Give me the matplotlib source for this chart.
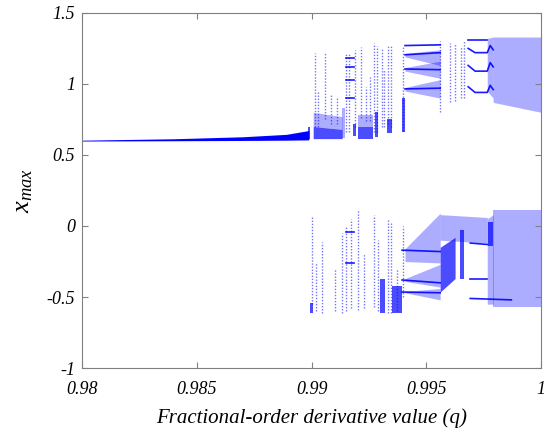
import matplotlib.pyplot as plt

plt.rcParams['font.family'] = ['Liberation Serif', 'DejaVu Serif']
plt.rcParams['mathtext.fontset'] = 'custom'
plt.rcParams['mathtext.rm'] = 'Liberation Serif'
plt.rcParams['mathtext.it'] = 'Liberation Serif:italic'

# period-1 trunk (a thin wedge that widens towards q = 0.99)
trunk_q = [0.980, 0.984, 0.987, 0.9889, 0.98988]
trunk_lo = [0.598, 0.600, 0.602, 0.604, 0.606]
trunk_hi = [0.604, 0.614, 0.628, 0.645, 0.672]

# dense bands: q0, q1, low at q0, low at q1, high at q0, high at q1
dense_bands = [
    (0.98985, 0.98993, 0.610, 0.610, 0.700, 0.700),
    (0.99007, 0.99133, 0.615, 0.615, 0.700, 0.680),
    (0.99181, 0.99194, 0.630, 0.630, 0.720, 0.720),
    (0.99203, 0.99268, 0.615, 0.615, 0.700, 0.700),
    (0.99277, 0.99290, 0.625, 0.625, 0.800, 0.800),
    (0.99329, 0.99351, 0.655, 0.655, 0.750, 0.750),
    (0.99394, 0.99407, 0.660, 0.660, 0.900, 0.900),
    (0.98993, 0.99007, -0.610, -0.610, -0.545, -0.545),
    (0.99298, 0.99320, -0.610, -0.610, -0.370, -0.370),
    (0.99351, 0.99394, -0.610, -0.610, -0.420, -0.420),
    (0.99560, 0.99625, -0.465, -0.370, -0.150, -0.080),
    (0.99647, 0.99665, -0.370, -0.370, -0.030, -0.030),
    (0.99769, 0.99791, -0.140, -0.140, 0.030, 0.030),
]

# loosely filled (scattered) regions, same layout
light_bands = [
    (0.99007, 0.99133, 0.700, 0.680, 0.800, 0.770),
    (0.99133, 0.99146, 0.620, 0.620, 0.830, 0.830),
    (0.99203, 0.99268, 0.700, 0.700, 0.780, 0.780),
    (0.99407, 0.99560, 1.190, 1.130, 1.215, 1.240),
    (0.99407, 0.99560, 1.090, 1.040, 1.115, 1.160),
    (0.99407, 0.99560, 0.950, 0.900, 0.975, 1.030),
    (0.99765, 0.99791, 0.950, 0.900, 1.320, 1.330),
    (0.99791, 1.00000, 0.870, 0.800, 1.330, 1.330),
    (0.99407, 0.99560, -0.250, -0.260, -0.160, 0.090),
    (0.99407, 0.99560, -0.390, -0.430, -0.370, -0.270),
    (0.99407, 0.99560, -0.470, -0.520, -0.460, -0.440),
    (0.99560, 0.99765, -0.100, -0.120, 0.080, 0.060),
    (0.99765, 0.99791, -0.550, -0.550, 0.050, 0.080),
    (0.99791, 1.00000, -0.570, -0.570, 0.110, 0.110),
]

# sparse vertical columns of points: q, y bottom, y top
col_q = [0.99015, 0.99030, 0.99060, 0.99085, 0.99110, 0.99150, 0.99165,
         0.99190, 0.99215, 0.99235, 0.99255, 0.99272, 0.99283, 0.99305,
         0.99315, 0.99335, 0.99345, 0.99400, 0.99560, 0.99605, 0.99625,
         0.99650, 0.99665,
         0.99000, 0.99020, 0.99046, 0.99100, 0.99133, 0.99150, 0.99170,
         0.99200, 0.99230, 0.99272, 0.99290, 0.99335, 0.99345, 0.99370,
         0.99400]
col_lo = [0.70, 0.70, 0.75, 0.72, 0.72, 0.66, 0.66,
          0.70, 0.76, 0.74, 0.74, 0.66, 0.66, 0.70,
          0.70, 0.72, 0.70, 0.67, 0.80, 0.87, 0.88,
          0.90, 0.90,
          -0.55, -0.60, -0.61, -0.60, -0.61, -0.60, -0.58,
          -0.59, -0.58, -0.57, -0.60, -0.61, -0.61, -0.60,
          -0.50]
col_hi = [1.22, 0.95, 1.22, 0.92, 0.90, 1.21, 1.21,
          1.24, 1.26, 0.98, 1.05, 1.29, 1.27, 1.25,
          1.10, 1.27, 1.27, 1.27, 1.30, 1.29, 1.28,
          1.27, 1.30,
          0.06, -0.25, -0.11, -0.30, -0.05, 0.00, 0.05,
          0.11, -0.20, 0.08, -0.10, 0.05, 0.03, -0.30,
          0.00]

# periodic branches inside the windows
branches = [
    ([0.99407, 0.99560], [1.270, 1.275]),
    ([0.99407, 0.99560], [1.205, 1.220]),
    ([0.99407, 0.99560], [1.105, 1.100]),
    ([0.99407, 0.99560], [0.965, 0.970]),
    ([0.99150, 0.99185], [1.180, 1.180]),
    ([0.99150, 0.99185], [1.120, 1.120]),
    ([0.99150, 0.99185], [1.030, 1.030]),
    ([0.99150, 0.99185], [0.900, 0.900]),
    ([0.99682, 0.99765], [1.310, 1.310]),
    ([0.99682, 0.99712, 0.99765, 0.99778, 0.99791], [1.250, 1.220, 1.220, 1.270, 1.240]),
    ([0.99682, 0.99712, 0.99765, 0.99778, 0.99791], [1.130, 1.090, 1.090, 1.150, 1.120]),
    ([0.99682, 0.99712, 0.99765, 0.99778, 0.99791], [0.980, 0.940, 0.940, 0.990, 0.960]),
    ([0.99150, 0.99185], [-0.040, -0.040]),
    ([0.99150, 0.99185], [-0.260, -0.260]),
    ([0.99394, 0.99560], [-0.170, -0.180]),
    ([0.99394, 0.99560], [-0.380, -0.400]),
    ([0.99394, 0.99560], [-0.465, -0.470]),
    ([0.99691, 0.99765], [-0.120, -0.130]),
    ([0.99691, 0.99765], [-0.370, -0.370]),
    ([0.99691, 0.99870], [-0.510, -0.520]),
]

fig = plt.figure(figsize=(5.5, 4.44), dpi=100)
ax = fig.add_axes([0.149, 0.171, 0.835, 0.800])

ax.fill_between(trunk_q, trunk_lo, trunk_hi, color='blue', lw=0)
for q0, q1, l0, l1, h0, h1 in dense_bands:
    ax.fill_between([q0, q1], [l0, l1], [h0, h1], color='blue', alpha=0.7, lw=0)
for q0, q1, l0, l1, h0, h1 in light_bands:
    ax.fill_between([q0, q1], [l0, l1], [h0, h1], color='blue', alpha=0.32, lw=0)
ax.vlines(col_q, col_lo, col_hi, color='blue', alpha=0.55, lw=1.0,
          linestyles=(0, (1, 1.2)))
for bq, by in branches:
    ax.plot(bq, by, color='blue', lw=1.2, alpha=0.9)

ax.set_xlim(0.98, 1.0)
ax.set_ylim(-1, 1.5)
ax.set_xticks([0.98, 0.985, 0.99, 0.995, 1.0])
ax.set_xticklabels(['0.98', '0.985', '0.99', '0.995', '1'])
ax.set_yticks([-1, -0.5, 0, 0.5, 1, 1.5])
ax.set_yticklabels(['-1', '-0.5', '0', '0.5', '1', '1.5'])
ax.tick_params(direction='in', top=True, right=True, length=4, color='#808080',
               labelsize=13)
ax.tick_params(axis='x', pad=9)
ax.tick_params(axis='y', pad=5)
for lab in ax.get_xticklabels() + ax.get_yticklabels():
    lab.set_fontstyle('italic')
for sp in ax.spines.values():
    sp.set_color('#808080')

ax.set_xlabel('Fractional-order derivative value (q)', fontsize=15, style='italic',
              labelpad=8)
ax.set_ylabel('$x_{max}$', fontsize=19, labelpad=8)

fig.savefig('out.png', dpi=100)
